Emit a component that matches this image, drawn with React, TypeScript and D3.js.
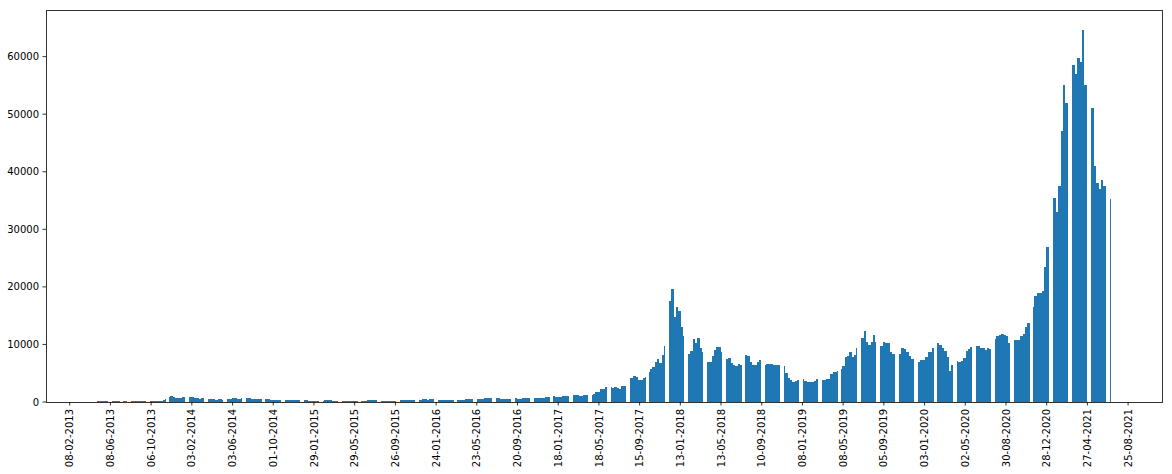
import React from "react";
import * as d3 from "d3";

// weekly closing price (USD), one value per week starting on Sunday
const firstWeek = "2013-04-28";
const firstDay = "2013-04-29";
const lastDay = "2021-07-06";

const close2013 = [140, 115, 117, 123, 130, 122, 105, 103, 102, 90, 77, 95, 92, 97, 105, 106, 115, 125, 128, 130, 127, 125, 123, 125, 140, 180, 200, 240, 350, 600, 900, 1100, 900, 700, 680, 760];
const close2014 = [900, 850, 830, 810, 810, 690, 620, 560, 660, 630, 610, 580, 470, 450, 430, 490, 440, 430, 440, 490, 580, 650, 650, 600, 590, 630, 630, 620, 620, 590, 590, 570, 500, 510, 480, 475, 450, 410, 380, 330, 390, 385, 345, 330, 400, 380, 375, 375, 350, 330, 320, 315];
const close2015 = [280, 210, 230, 240, 225, 225, 240, 255, 275, 290, 270, 250, 250, 250, 225, 225, 235, 240, 238, 238, 237, 225, 230, 245, 245, 260, 270, 285, 280, 290, 280, 265, 230, 225, 230, 240, 230, 232, 237, 245, 265, 270, 300, 380, 330, 325, 325, 385, 415, 455, 440, 430];
const close2016 = [450, 440, 385, 390, 375, 380, 410, 430, 415, 410, 415, 415, 420, 420, 425, 440, 460, 450, 455, 455, 445, 530, 580, 700, 680, 650, 660, 660, 670, 655, 580, 590, 575, 580, 575, 610, 610, 605, 605, 610, 640, 640, 690, 700, 710, 745, 735, 750, 770, 790, 860, 960];
const close2017 = [1000, 820, 890, 920, 990, 1030, 1000, 1100, 1200, 1250, 1200, 1000, 1050, 1140, 1190, 1200, 1280, 1450, 1700, 1800, 2200, 2300, 2600, 2700, 2600, 2500, 2600, 2400, 2200, 2700, 2800, 3400, 4200, 4100, 4600, 4400, 3800, 3800, 4200, 4400, 5200, 5800, 6000, 7000, 7400, 6800, 8200, 9800, 13500, 17500, 19600, 14800, 16500];
const close2018 = [15800, 13000, 11500, 10800, 8300, 8800, 11000, 10300, 11200, 9300, 8600, 8300, 7000, 6900, 8000, 9000, 9600, 9500, 8600, 8400, 7400, 7600, 6700, 6400, 6200, 6600, 6500, 7400, 8200, 8000, 7000, 6400, 6500, 7000, 7300, 6400, 6500, 6600, 6600, 6600, 6500, 6500, 6400, 6400, 6300, 5000, 4100, 3900, 3500, 3700, 3900, 3800];
const close2019 = [4000, 3650, 3550, 3450, 3450, 3650, 3950, 3800, 3850, 3900, 4000, 4050, 4900, 5200, 5200, 5400, 5700, 6200, 7800, 8000, 8600, 7900, 8200, 9300, 11800, 11200, 12300, 10500, 9900, 10400, 11700, 10400, 10300, 9800, 10500, 10300, 10200, 8600, 8300, 8300, 8200, 8300, 9300, 9200, 8700, 8000, 7400, 7400, 7250, 7000, 7300, 7250];
const close2020 = [7800, 8700, 8600, 9300, 9400, 10200, 9900, 9300, 8900, 7900, 5400, 6400, 6500, 7100, 6900, 7100, 7700, 8900, 9200, 9600, 9000, 9700, 9700, 9400, 9300, 9100, 9300, 9200, 9400, 11000, 11500, 11700, 11900, 11600, 11500, 10300, 10700, 10700, 10800, 10700, 11400, 11800, 13100, 13700, 15400, 16500, 18500, 19000, 19000, 19300, 23500, 27000];
const close2021 = [35000, 38500, 35500, 33000, 37500, 47000, 55000, 52000, 48500, 57000, 58500, 57000, 59800, 59000, 64600, 55000, 54000, 57500, 51000, 41000, 38000, 37000, 38500, 37500, 34000, 35000, 35300];

const yTicks = [0, 10000, 20000, 30000, 40000, 50000, 60000];
const xTickLabels = [
  "08-02-2013", "08-06-2013", "06-10-2013", "03-02-2014", "03-06-2014", "01-10-2014",
  "29-01-2015", "29-05-2015", "26-09-2015", "24-01-2016", "23-05-2016", "20-09-2016",
  "18-01-2017", "18-05-2017", "15-09-2017", "13-01-2018", "13-05-2018", "10-09-2018",
  "08-01-2019", "08-05-2019", "05-09-2019", "03-01-2020", "02-05-2020", "30-08-2020",
  "28-12-2020", "27-04-2021", "25-08-2021",
];

const width = 1172;
const height = 474;
const margin = { top: 10, right: 10, bottom: 72, left: 46 };
const yMax = 68100;
const barColor = "#1f77b4";
const font = "'DejaVu Sans', sans-serif";
const DAY = 864e5;

export default function App() {
  const parseIso = d3.utcParse("%Y-%m-%d");
  const parseLabel = d3.utcParse("%d-%m-%Y");

  const d0 = parseIso(firstDay)!;
  const d1 = parseIso(lastDay)!;
  const nDays = (d1.getTime() - d0.getTime()) / DAY;

  // daily bars of width 0.8 with 5% padding on both sides, like matplotlib
  const pad = 0.05 * (nDays + 0.8) * DAY;
  const x = d3
    .scaleUtc()
    .domain([new Date(d0.getTime() - 0.4 * DAY - pad), new Date(d1.getTime() + 0.4 * DAY + pad)])
    .range([margin.left, width - margin.right]);
  const y = d3
    .scaleLinear()
    .domain([0, yMax])
    .range([height - margin.bottom, margin.top]);

  const values = [
    ...close2013, ...close2014, ...close2015, ...close2016, ...close2017,
    ...close2018, ...close2019, ...close2020, ...close2021,
  ];
  const weekDates = d3.utcSunday.range(parseIso(firstWeek)!, d3.utcDay.offset(d1, 1));
  const bars = values.map((v, i) => {
    const start = weekDates[i];
    const end = d3.utcDay.offset(start, 7);
    return { start, end, v };
  });

  // pixel columns actually covered by the thin daily bars (gives the white stripes)
  const xFirst = x(d0);
  const pxPerDay = x(new Date(d0.getTime() + DAY)) - xFirst;
  const dayPhase = 0.734;
  const cols: { x: number; w: number }[] = [];
  let run = -1;
  const cStart = Math.floor(x(new Date(d0.getTime() - DAY)));
  const cEnd = Math.ceil(x(new Date(d1.getTime() + DAY)));
  for (let c = cStart; c <= cEnd + 1; c++) {
    const t = (c + 0.5 - xFirst) / pxPerDay;
    const inside = t >= -0.4 && t <= nDays + 0.4;
    const tp = t - dayPhase;
    const frac = tp - Math.round(tp);
    const on = c <= cEnd && inside && Math.abs(frac) <= 0.4;
    if (on && run < 0) run = c;
    if (!on && run >= 0) {
      cols.push({ x: run, w: c - run });
      run = -1;
    }
  }

  const plotTop = margin.top;
  const plotBottom = height - margin.bottom;
  const plotLeft = margin.left;
  const plotRight = width - margin.right;

  return (
    <svg
      width={width}
      height={height}
      style={{ position: "absolute", left: 0, top: 0, display: "block", background: "#fff" }}
    >
      <defs>
        <clipPath id="dayCols">
          {cols.map((c, i) => (
            <rect key={i} x={c.x} y={plotTop} width={c.w} height={plotBottom - plotTop} />
          ))}
        </clipPath>
      </defs>

      <g clipPath="url(#dayCols)">
        {bars.map((b, i) => (
          <rect
            key={i}
            x={x(b.start)}
            y={y(b.v)}
            width={x(b.end) - x(b.start)}
            height={y(0) - y(b.v)}
            fill={barColor}
            shapeRendering="crispEdges"
          />
        ))}
      </g>

      {/* y axis */}
      {yTicks.map((t) => (
        <g key={t}>
          <line
            x1={plotLeft - 3.5}
            x2={plotLeft}
            y1={y(t)}
            y2={y(t)}
            stroke="#000"
            strokeWidth={0.8}
          />
          <text
            x={plotLeft - 7}
            y={y(t)}
            dy="0.36em"
            textAnchor="end"
            fontFamily={font}
            fontSize={10}
            fill="#000"
          >
            {t}
          </text>
        </g>
      ))}

      {/* x axis */}
      {xTickLabels.map((lab) => {
        const tx = x(parseLabel(lab)!);
        return (
          <g key={lab}>
            <line
              x1={tx}
              x2={tx}
              y1={plotBottom}
              y2={plotBottom + 3.5}
              stroke="#000"
              strokeWidth={0.8}
            />
            <text
              transform={`translate(${tx},${plotBottom + 7}) rotate(-90)`}
              dy="0.36em"
              textAnchor="end"
              fontFamily={font}
              fontSize={10}
              fill="#000"
            >
              {lab}
            </text>
          </g>
        );
      })}

      {/* frame */}
      <rect
        x={plotLeft + 0.5}
        y={plotTop + 0.5}
        width={plotRight - plotLeft}
        height={plotBottom - plotTop}
        fill="none"
        stroke="#000"
        strokeWidth={0.8}
        shapeRendering="crispEdges"
      />
    </svg>
  );
}
